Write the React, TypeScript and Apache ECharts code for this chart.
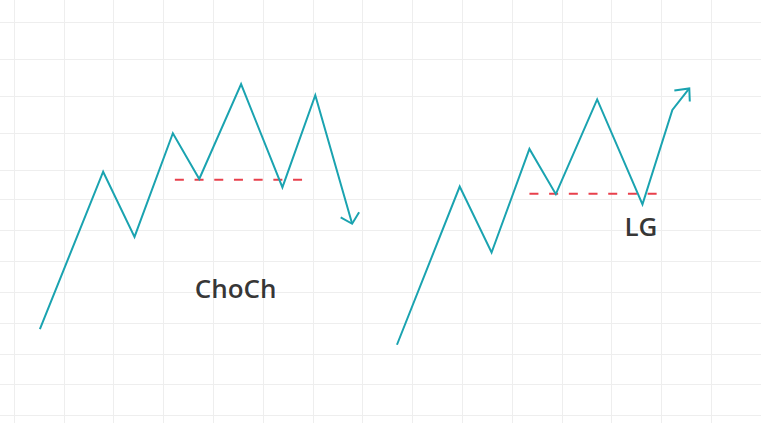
import React, { useEffect, useRef } from 'react';
import * as echarts from 'echarts';

// x is measured in grid columns, y in price units (0 bottom, 100 top)
const chochPath = [
  [0.52, 22.2], [1.79, 59.4], [2.42, 44.0], [3.19, 68.5], [3.72, 57.7],
  [4.56, 80.1], [5.39, 55.7], [6.05, 77.5], [6.79, 47.1],
];
const chochArrow = [[6.56, 48.6], [6.79, 47.1], [6.93, 49.8]];
const chochLevel = [[3.23, 57.5], [5.8, 57.5]];

const lgPath = [
  [7.69, 18.5], [8.95, 55.9], [9.59, 40.3], [10.35, 64.8], [10.88, 54.1],
  [11.71, 76.5], [12.62, 51.7], [13.22, 74.0], [13.56, 79.1],
];
const lgArrow = [[13.26, 78.6], [13.56, 79.1], [13.57, 76.0]];
const lgLevel = [[10.35, 54.2], [12.93, 54.2]];

const labels = [
  { name: 'ChoCh', value: [4.45, 32.0] },
  { name: 'LG', value: [12.59, 46.5] },
];

const TEAL = '#1aa3b0';
const RED = '#e8404c';
const GRID = '#eeeeee';

const hiddenAxis = {
  axisLine: { show: false },
  axisTick: { show: false },
  axisLabel: { show: false },
};

const App: React.FC = () => {
  const chartRef = useRef<HTMLDivElement>(null);

  useEffect(() => {
    const chart = echarts.init(chartRef.current!, null, { renderer: 'svg' });

    const teal = (data: number[][]) => ({
      type: 'line',
      xAxisIndex: 0,
      yAxisIndex: 0,
      data,
      symbol: 'none',
      silent: true,
      lineStyle: { color: TEAL, width: 2, join: 'miter' },
      z: 3,
    });

    const dashed = (data: number[][]) => ({
      type: 'line',
      xAxisIndex: 0,
      yAxisIndex: 0,
      data,
      symbol: 'none',
      silent: true,
      lineStyle: { color: RED, width: 2, type: [9, 10.7] },
      z: 2,
    });

    const options: any = {
      animation: false,
      grid: [
        // data grid: first vertical rule at 14px, one column = 49.8px
        { left: 14, right: 0, top: 0, bottom: 0 },
        // upper rows, 37px apart
        { left: 0, right: 0, top: 22.5, height: 148 },
        // lower rows, ~30.9px apart
        { left: 0, right: 0, top: 199.5, height: 216 },
      ],
      xAxis: [
        {
          gridIndex: 0,
          type: 'value',
          min: 0,
          max: 15,
          interval: 1,
          ...hiddenAxis,
          splitLine: { show: true, lineStyle: { color: GRID, width: 1 } },
        },
        { gridIndex: 1, type: 'value', show: false, splitLine: { show: false } },
        { gridIndex: 2, type: 'value', show: false, splitLine: { show: false } },
      ],
      yAxis: [
        {
          gridIndex: 0,
          type: 'value',
          min: 0,
          max: 100,
          ...hiddenAxis,
          splitLine: { show: false },
        },
        {
          gridIndex: 1,
          type: 'value',
          min: 0,
          max: 4,
          interval: 1,
          ...hiddenAxis,
          splitLine: { show: true, lineStyle: { color: GRID, width: 1 } },
        },
        {
          gridIndex: 2,
          type: 'value',
          min: 0,
          max: 7,
          interval: 1,
          ...hiddenAxis,
          splitLine: { show: true, lineStyle: { color: GRID, width: 1 } },
        },
      ],
      series: [
        teal(chochPath),
        teal(chochArrow),
        dashed(chochLevel),
        teal(lgPath),
        teal(lgArrow),
        dashed(lgLevel),
        {
          type: 'scatter',
          xAxisIndex: 0,
          yAxisIndex: 0,
          data: labels,
          symbolSize: 0,
          silent: true,
          label: {
            show: true,
            position: 'inside',
            formatter: '{b}',
            color: '#000000',
            fontFamily: 'Open Sans',
            fontWeight: 600,
            fontSize: 26,
          },
          z: 4,
        },
      ],
    };

    chart.setOption(options);

    return () => {
      chart.dispose();
    };
  }, []);

  return (
    <div
      ref={chartRef}
      style={{ position: 'fixed', left: 0, top: 0, width: '761px', height: '423px', background: '#ffffff' }}
    />
  );
};

export default App;
